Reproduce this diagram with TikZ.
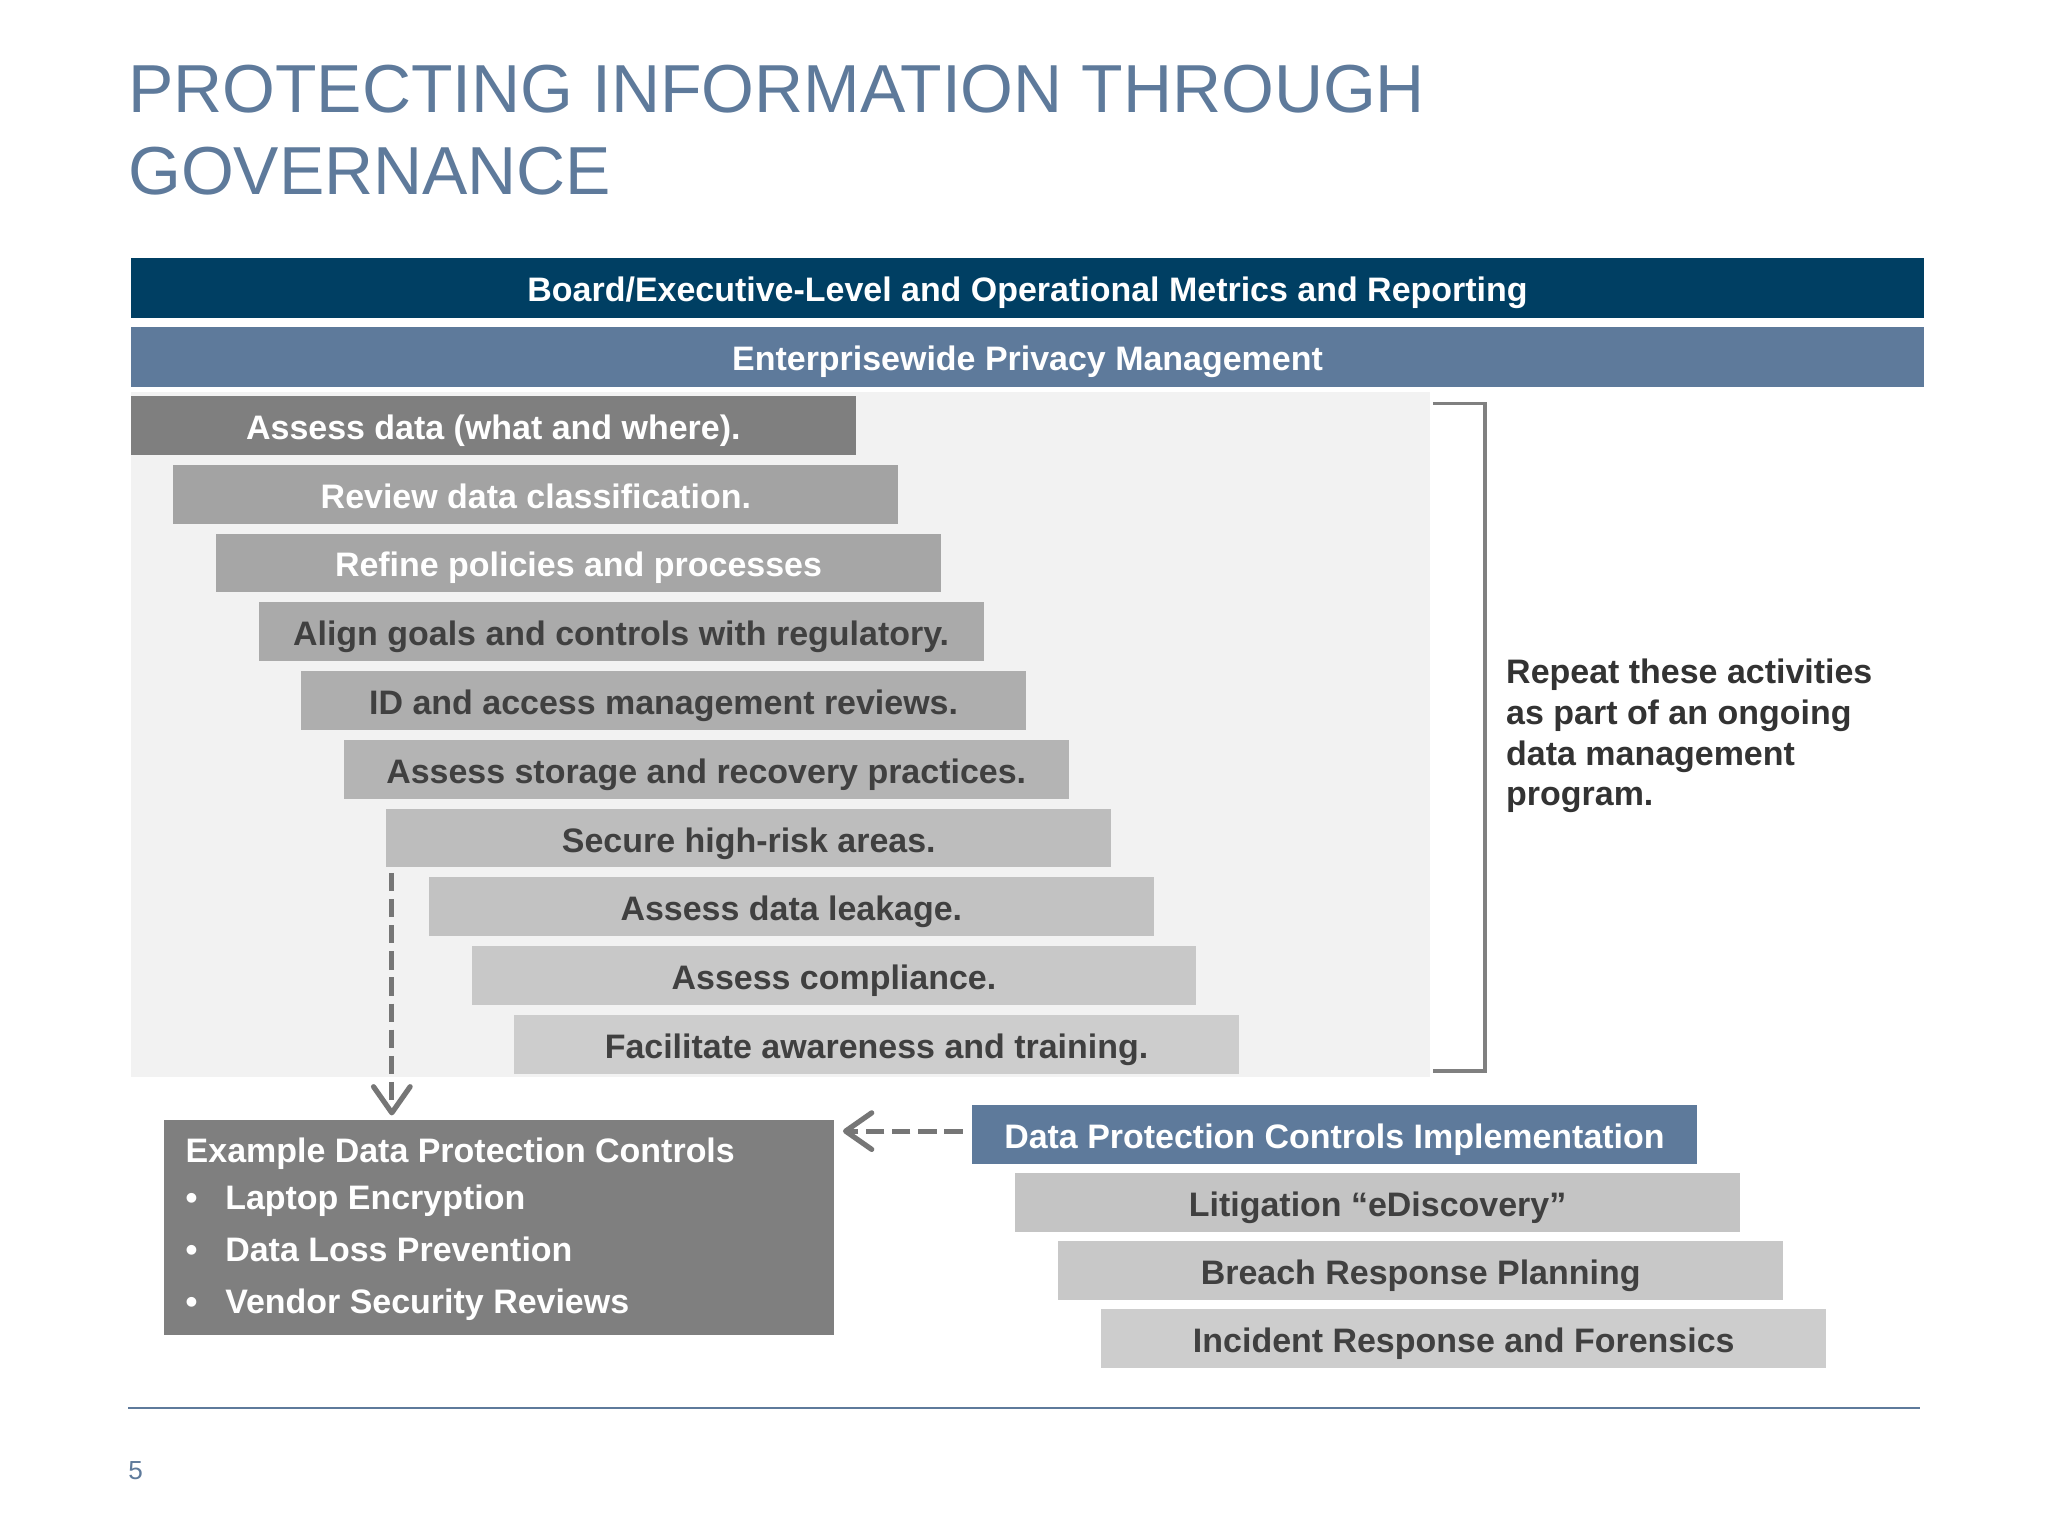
\documentclass[tikz,border=0pt]{standalone}
\usepackage{fontspec}
\setmainfont{Liberation Sans}
\usetikzlibrary{arrows.meta,calc}
\definecolor{navy}{RGB}{0,63,99}
\definecolor{steel}{RGB}{94,122,155}
\definecolor{panelgray}{RGB}{242,242,242}
\definecolor{darktext}{RGB}{64,64,64}
\definecolor{repeattext}{RGB}{51,51,51}
\definecolor{arrowgray}{RGB}{118,118,118}
\definecolor{brkgray}{RGB}{128,128,128}
\definecolor{g1}{RGB}{127,127,127}
\definecolor{g2}{RGB}{163,163,163}
\definecolor{g3}{RGB}{166,166,166}
\definecolor{g4}{RGB}{170,170,170}
\definecolor{g5}{RGB}{174,174,174}
\definecolor{g6}{RGB}{180,180,180}
\definecolor{g7}{RGB}{189,189,189}
\definecolor{g8}{RGB}{194,194,194}
\definecolor{g9}{RGB}{200,200,200}
\definecolor{g10}{RGB}{205,205,205}
\definecolor{lg}{RGB}{196,196,196}
\begin{document}
\begin{tikzpicture}[x=1pt,y=-1pt,
  bigfont/.style={font=\bfseries\fontsize{26}{31.4}\selectfont},
  hdr/.style={bigfont, anchor=north west, minimum width=1373pt, minimum height=46pt,
    inner sep=0pt, text=white, text height=21.4pt, text depth=0pt},
  stair/.style={bigfont, anchor=north west, minimum width=555pt, minimum height=45pt,
    inner sep=0pt, text height=21.4pt, text depth=0pt},
  lighttxt/.style={text=white},
  darktxt/.style={text=darktext},
  plain/.style={bigfont, anchor=base west, inner sep=0pt},
  dasharrow/.style={draw=arrowgray, line width=4pt, dash pattern=on 14pt off 6pt,
    -{Straight Barb[length=20pt,width=28pt,round]}},
  brk/.style={draw=brkgray, line width=2.5pt}
]
\useasboundingbox (0,0) rectangle (1568,1176);
\fill[white] (0,0) rectangle (1568,1176);

% title
\node[anchor=base west, inner sep=0pt, text=steel, font=\fontsize{52}{63}\selectfont] (t1) at (98,86) {PROTECTING INFORMATION THROUGH};
\node[anchor=base west, inner sep=0pt, text=steel, font=\fontsize{52}{63}\selectfont] (t2) at (98,149) {GOVERNANCE};

% header bars
\node[hdr, fill=navy] (h1) at (100,197) {Board/Executive-Level and Operational Metrics and Reporting};
\node[hdr, fill=steel] (h2) at (100,250) {Enterprisewide Privacy Management};

% panel
\node[anchor=north west, minimum width=995pt, minimum height=524pt, inner sep=0pt, fill=panelgray] (pn) at (100,300) {};

% stair bars
\node[stair, lighttxt, fill=g1]  (s1)  at (100,303)    {Assess data (what and where).};
\node[stair, lighttxt, fill=g2]  (s2)  at (132.6,355.65) {Review data classification.};
\node[stair, lighttxt, fill=g3]  (s3)  at (165.2,408.3)  {Refine policies and processes};
\node[stair, darktxt, fill=g4]   (s4)  at (197.8,460.95) {Align goals and controls with regulatory.};
\node[stair, darktxt, fill=g5]   (s5)  at (230.4,513.6)  {ID and access management reviews.};
\node[stair, darktxt, fill=g6]   (s6)  at (263,566.25)   {Assess storage and recovery practices.};
\node[stair, darktxt, fill=g7]   (s7)  at (295.6,618.9)  {Secure high-risk areas.};
\node[stair, darktxt, fill=g8]   (s8)  at (328.2,671.55) {Assess data leakage.};
\node[stair, darktxt, fill=g9]   (s9)  at (360.8,724.2)  {Assess compliance.};
\node[stair, darktxt, fill=g10]  (s10) at (393.4,776.85) {Facilitate awareness and training.};

% bracket
\draw[brk] (1097,309) -- (1137,309) -- (1137,820) -- (1097,820);

% repeat text
\node[plain, text=repeattext] (r1) at (1153,523) {Repeat these activities};
\node[plain, text=repeattext] (r2) at (1153,554.5) {as part of an ongoing};
\node[plain, text=repeattext] (r3) at (1153,586) {data management};
\node[plain, text=repeattext] (r4) at (1153,617) {program.};

% example box
\node[anchor=north west, minimum width=513pt, minimum height=165pt, inner sep=0pt, fill=g1] (ex) at (125,857) {};
\node[plain, text=white] (e0) at (142,890) {Example Data Protection Controls};
\node[plain, text=white] (e1) at (142,926) {\makebox[30.3pt][l]{•}Laptop Encryption};
\node[plain, text=white] (e2) at (142,966) {\makebox[30.3pt][l]{•}Data Loss Prevention};
\node[plain, text=white] (e3) at (142,1006) {\makebox[30.3pt][l]{•}Vendor Security Reviews};

% lower stairs
\node[stair, lighttxt, fill=steel] (d0) at (744,846)  {Data Protection Controls Implementation};
\node[stair, darktxt, fill=lg]     (d1) at (777,898)  {Litigation “eDiscovery”};
\node[stair, darktxt, fill=g9]     (d2) at (810,950)  {Breach Response Planning};
\node[stair, darktxt, fill=g10]    (d3) at (843,1002) {Incident Response and Forensics};

% connectors
\coordinate (vx) at (300,0);
\draw[dasharrow, shorten <=4pt, shorten >=3pt] (vx |- s7.south) -- (vx |- ex.north);
\draw[dasharrow, shorten <=7pt, shorten >=7pt] (d0.west |- 0,866) -- (ex.east |- 0,866);

% footer
\draw[steel, line width=2pt] (98,1078) -- (1470,1078);
\node[anchor=base west, inner sep=0pt, text=steel, font=\fontsize{20}{24}\selectfont] (pg) at (98,1133) {5};
\end{tikzpicture}
\end{document}
